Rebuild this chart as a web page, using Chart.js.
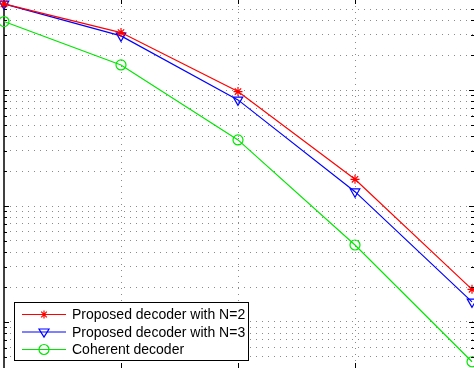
<!DOCTYPE html>
<html lang="en">
<head>
<meta charset="UTF-8">
<title>Decoder error rate</title>
<!-- Chart.js library -->
<script src="https://cdn.jsdelivr.net/npm/chart.js@4"></script>
<style>
    html, body { margin: 0; padding: 0; background: #fff; }
    #chartBox { width: 474px; height: 368px; }
</style>
</head>
<body>
<div id="chartBox">
    <canvas id="berChart" width="474" height="368"></canvas>
</div>
<script>
// values (x = SNR step, y = error rate, log axis)
const snrSteps   = [0, 1, 2, 3, 4];
const proposedN2 = [0.556, 0.314, 0.0973, 0.0170, 0.00191];
const proposedN3 = [0.556, 0.294, 0.0824, 0.0133, 0.00149];
const coherent   = [0.391, 0.165, 0.0372, 0.00461, 0.000453];
const seriesNames = ['Proposed decoder with N=2', 'Proposed decoder with N=3', 'Coherent decoder'];
const xTicks = [0, 1, 2, 3, 4];
const yDecades = [1e-4, 1e-3, 1e-2, 1e-1];
const yMin = 4e-4, yMax = 0.6;

// 1..9 x each decade, for the dotted log grid
const yTicks = [];
yDecades.forEach(d => {
    for (let m = 1; m <= 9; m++) {
        const v = m * d;
        if (v > yMin && v < yMax) yTicks.push(v);
    }
});

const gridGray = '#8a8a8a';

function markerPath(ctx, style, x, y, r) {
    ctx.beginPath();
    if (style === 'star') {
        ctx.moveTo(x - r, y); ctx.lineTo(x + r, y);
        ctx.moveTo(x, y - r); ctx.lineTo(x, y + r);
        const d = r * 0.707;
        ctx.moveTo(x - d, y - d); ctx.lineTo(x + d, y + d);
        ctx.moveTo(x - d, y + d); ctx.lineTo(x + d, y - d);
    } else if (style === 'tri') {
        ctx.moveTo(x - r, y - r * 0.6);
        ctx.lineTo(x + r, y - r * 0.6);
        ctx.lineTo(x, y + r);
        ctx.closePath();
    } else {
        ctx.arc(x, y, r, 0, Math.PI * 2);
    }
    ctx.stroke();
}

// axis line, ticks pointing inward + boxed legend, drawn like the original plot
const matlabAxes = {
    id: 'matlabAxes',
    beforeDatasetsDraw(chart) {
        const ctx = chart.ctx;
        const area = chart.chartArea;
        ctx.save();
        ctx.strokeStyle = '#000';
        ctx.lineWidth = 1.5;
        ctx.beginPath();
        ctx.moveTo(area.left, 0); ctx.lineTo(area.left, chart.height);
        ctx.stroke();
        ctx.restore();
    },
    afterDraw(chart) {
        const ctx = chart.ctx;
        const area = chart.chartArea;
        const xs = chart.scales.x, ys = chart.scales.y;
        ctx.save();
        ctx.setLineDash([]);
        ctx.strokeStyle = '#000';
        ctx.lineWidth = 1;
        yTicks.forEach(v => {
            const py = Math.round(ys.getPixelForValue(v)) + 0.5;
            const len = yDecades.includes(v) ? 5 : 3;
            ctx.beginPath();
            ctx.moveTo(area.left, py); ctx.lineTo(area.left + len, py);
            ctx.moveTo(area.right, py); ctx.lineTo(area.right - len, py);
            ctx.stroke();
        });
        xTicks.slice(1, 4).forEach(v => {
            const px = Math.round(xs.getPixelForValue(v)) + 0.5;
            ctx.beginPath();
            ctx.moveTo(px, area.bottom); ctx.lineTo(px, area.bottom - 5);
            ctx.moveTo(px, area.top); ctx.lineTo(px, area.top + 4);
            ctx.stroke();
        });

        // legend
        ctx.font = '14px "Liberation Sans", Arial, sans-serif';
        const textW = Math.max(...seriesNames.map(s => ctx.measureText(s).width));
        const x0 = 14.5, y0 = 302.5, y1 = 360.5;
        const x1 = Math.round(72 + textW + 3) + 0.5;
        ctx.fillStyle = '#fff';
        ctx.fillRect(x0, y0, x1 - x0, y1 - y0);
        ctx.strokeRect(x0, y0, x1 - x0, y1 - y0);
        const styles = ['star', 'tri', 'circle'];
        const rowY = [314.5, 332, 349.5];
        chart.data.datasets.forEach((ds, i) => {
            ctx.strokeStyle = ds.borderColor;
            ctx.lineWidth = 1.2;
            ctx.beginPath();
            ctx.moveTo(22, rowY[i]); ctx.lineTo(66, rowY[i]);
            ctx.stroke();
            markerPath(ctx, styles[i], 44, rowY[i], i === 0 ? 4 : 5);
            ctx.fillStyle = '#000';
            ctx.textBaseline = 'middle';
            ctx.fillText(seriesNames[i], 72, rowY[i] + 1);
        });
        ctx.restore();
    }
};

function pts(vals) {
    return snrSteps.map((x, i) => ({ x: x, y: vals[i] }));
}

const ctx = document.getElementById('berChart').getContext('2d');
const berChart = new Chart(ctx, {
    type: 'line',
    data: {
        datasets: [{
            label: seriesNames[0],
            data: pts(proposedN2),
            borderColor: '#ff0000',
            borderWidth: 1.2,
            pointStyle: 'star',
            pointRadius: 4.5,
            pointBorderColor: '#ff0000',
            pointBackgroundColor: 'transparent',
            pointBorderWidth: 1.2,
            clip: false
        }, {
            label: seriesNames[1],
            data: pts(proposedN3),
            borderColor: '#0000ff',
            borderWidth: 1.2,
            pointStyle: 'triangle',
            pointRotation: 180,
            pointRadius: 5.5,
            pointBorderColor: '#0000ff',
            pointBackgroundColor: 'transparent',
            pointBorderWidth: 1.2,
            clip: false
        }, {
            label: seriesNames[2],
            data: pts(coherent),
            borderColor: '#00e600',
            borderWidth: 1.2,
            pointStyle: 'circle',
            pointRadius: 5,
            pointBorderColor: '#00e600',
            pointBackgroundColor: 'transparent',
            pointBorderWidth: 1.2,
            clip: false
        }]
    },
    options: {
        responsive: false,
        animation: false,
        devicePixelRatio: 1,
        layout: { autoPadding: false, padding: { left: 4, right: 0, top: 0, bottom: 0 } },
        plugins: { legend: { display: false }, tooltip: { enabled: false } },
        scales: {
            x: {
                type: 'linear',
                min: 0,
                max: 4 + 2 / 117,
                afterBuildTicks: s => { s.ticks = xTicks.map(v => ({ value: v })); },
                ticks: { display: false },
                border: { display: false, dash: [1, 5] },
                grid: {
                    drawTicks: false,
                    color: c => (c.tick && c.tick.value > 0 && c.tick.value < 4) ? gridGray : 'rgba(0,0,0,0)',
                    lineWidth: 1
                }
            },
            y: {
                type: 'logarithmic',
                min: yMin,
                max: yMax,
                afterBuildTicks: s => { s.ticks = yTicks.map(v => ({ value: v })); },
                ticks: { display: false },
                border: { display: false, dash: [1, 5] },
                grid: {
                    drawTicks: false,
                    color: gridGray,
                    lineWidth: 1
                }
            }
        }
    },
    plugins: [matlabAxes]
});
</script>
</body>
</html>
